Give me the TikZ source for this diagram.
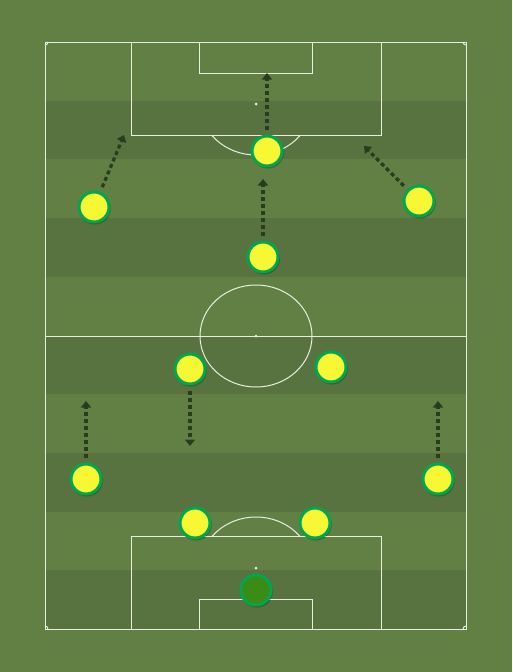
\documentclass[tikz,border=0pt]{standalone}
\usepackage{tikz}
\usetikzlibrary{arrows.meta,shadows}
\definecolor{grassL}{RGB}{98,128,67}
\definecolor{grassD}{RGB}{88,115,63}
\definecolor{chalk}{RGB}{232,238,226}
\definecolor{kitY}{RGB}{247,247,52}
\definecolor{kitG}{RGB}{0,166,80}
\definecolor{keeper}{RGB}{58,140,20}
\definecolor{runC}{RGB}{42,60,32}
\begin{document}
\begin{tikzpicture}[x=1pt,y=-1pt,
  line/.style={draw=chalk,line width=1pt},
  player/.style={circle,draw=kitG,fill=kitY,line width=3pt,minimum size=30pt,inner sep=0pt,
    circular drop shadow={shadow xshift=0.6pt,shadow yshift=-1.2pt,opacity=0.35,fill=black}},
  gk/.style={player,fill=keeper},
  run/.style={draw=runC,line width=3.2pt,dash pattern=on 4pt off 3pt,shorten <=5pt,
    -{Triangle[width=10pt,length=6.5pt]}}]
\useasboundingbox (0,0) rectangle (512,672);
\fill[grassL] (0,0) rectangle (512,672);
\foreach \k in {1,3,5,7,9}
  \fill[grassD] (45,42+58.7*\k) rectangle (466,42+58.7*\k+58.7);
\draw[line] (45,42) rectangle (466,629);
\draw[line] (45,336) -- (466,336);
\draw[line] (256,336) ellipse [x radius=56,y radius=51];
\fill[chalk] (256,336) circle[radius=1.5pt];
\draw[line] (131,42) rectangle (381,135);
\draw[line] (199,42) rectangle (312,73);
\fill[chalk] (256,104) circle[radius=1.5pt];
\draw[line] (131,536) rectangle (381,629);
\draw[line] (199,599) rectangle (312,629);
\fill[chalk] (256,568) circle[radius=1.5pt];
\begin{scope}
\clip (131,135) rectangle (381,200);
\draw[line] (256,104) ellipse [x radius=56,y radius=51];
\end{scope}
\begin{scope}
\clip (131,470) rectangle (381,536);
\draw[line] (256,568) ellipse [x radius=56,y radius=51];
\end{scope}
\draw[line] (48,42) arc[start angle=0,end angle=90,radius=3];
\draw[line] (463,42) arc[start angle=180,end angle=90,radius=3];
\draw[line] (48,629) arc[start angle=0,end angle=-90,radius=3];
\draw[line] (463,629) arc[start angle=180,end angle=270,radius=3];
\node[player] (ST)at(267,151){};
\node[player] (LW)at(94,207){};
\node[player] (RW)at(419,201){};
\node[player] (CM)at(263,257){};
\node[player] (LM)at(190,369){};
\node[player] (RM)at(331,367){};
\node[player] (LB)at(86,479){};
\node[player] (RB)at(438,479){};
\node[player] (LCB)at(195,523){};
\node[player] (RCB)at(315,523){};
\node[gk] (GK)at(256,590){};
\coordinate (STrun) at (267,73);
\coordinate (LWrun) at (124,135);
\coordinate (RWrun) at (364,146);
\coordinate (CMrun) at (263,179);
\coordinate (LMrun) at (190,446);
\coordinate (LBrun) at (86,401);
\coordinate (RBrun) at (438,401);
\draw[run] (ST) -- (STrun);
\draw[run] (LW) -- (LWrun);
\draw[run] (RW) -- (RWrun);
\draw[run] (CM) -- (CMrun);
\draw[run] (LM) -- (LMrun);
\draw[run] (LB) -- (LBrun);
\draw[run] (RB) -- (RBrun);
\end{tikzpicture}
\end{document}
